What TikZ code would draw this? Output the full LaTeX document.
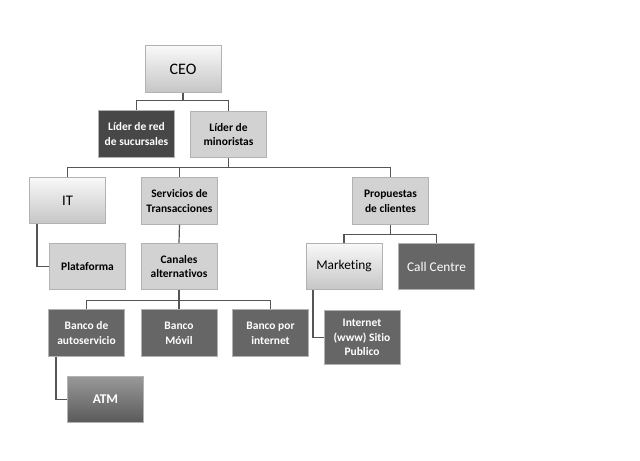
\documentclass[tikz,border=0pt]{standalone}
\usepackage{fontspec}
\setmainfont{Carlito}[Ligatures=NoCommon]
\definecolor{ln}{HTML}{555555}
\begin{document}
\begin{tikzpicture}[x=0.75pt,y=-0.75pt,
 box/.style={draw=gray!60,line width=0.6pt,minimum width=57pt,minimum height=35pt,align=center,inner sep=1pt,font=\fontsize{8.6}{11}\selectfont\bfseries},
 light/.style={box,top color=white!95!gray,bottom color=gray!45,text=black},
 flat/.style={box,fill=gray!35,text=black},
 mid/.style={box,fill=black!60,text=white},
 dark/.style={box,fill=black!72,text=white},
 grad/.style={box,top color=black!40,bottom color=black!65,text=white},
 conn/.style={draw=ln,line width=0.9pt}]
\useasboundingbox (0,0) rectangle (640,461);
\node[light,font=\fontsize{12}{14}\selectfont] (ceo) at (183,69) {CEO};
\node[dark] (red) at (136.5,134) {Líder de red\\de sucursales};
\node[flat] (min) at (228.5,134.5) {Líder de\\minoristas};
\node[light,font=\fontsize{11}{13}\selectfont] (it) at (67.5,200.5) {IT};
\node[flat] (serv) at (179.5,201) {Servicios de\\Transacciones};
\node[flat] (prop) at (390.5,201) {Propuestas\\de clientes};
\node[flat] (plat) at (87.5,266.5) {Plataforma};
\node[flat] (can) at (179,266.5) {Canales\\alternativos};
\node[light,font=\fontsize{10}{12}\selectfont\mdseries] (mkt) at (344,266.5) {Marketing};
\node[mid,font=\fontsize{10}{12}\selectfont\mdseries] (cc) at (436.5,266.5) {Call Centre};
\node[mid] (auto) at (86.5,333) {Banco de\\autoservicio};
\node[mid] (mov) at (179,333) {Banco\\Móvil};
\node[mid] (inet) at (270.5,333) {Banco por\\internet};
\node[mid,minimum height=41pt] (www) at (362,337.5) {Internet\\(www) Sitio\\Publico};
\node[grad,font=\fontsize{10}{12}\selectfont\bfseries] (atm) at (105.5,399.5) {ATM};
\draw[conn] (ceo.south) -- ++(0,8) coordinate (c1) -| (red.north);
\draw[conn] (c1) -| (min.north);
\draw[conn] (min.south) -- ++(0,9) coordinate (c2) -| (it.north);
\draw[conn] (c2) -| (serv.north);
\draw[conn] (c2) -| (prop.north);
\draw[conn] (it.south -| 37,0) |- (plat.west);
\draw[conn] (serv.south) -- (can.north);
\draw[conn] (can.south) -- ++(0,10) coordinate (c3) -| (auto.north);
\draw[conn] (c3) -- (mov.north);
\draw[conn] (c3) -| (inet.north);
\draw[conn] (prop.south) -- ++(0,10) coordinate (c4) -| (mkt.north);
\draw[conn] (c4) -| (cc.north);
\draw[conn] (mkt.south -| 313,0) |- (www.west);
\draw[conn] (auto.south -| 56,0) |- (atm.west);
\end{tikzpicture}
\end{document}
